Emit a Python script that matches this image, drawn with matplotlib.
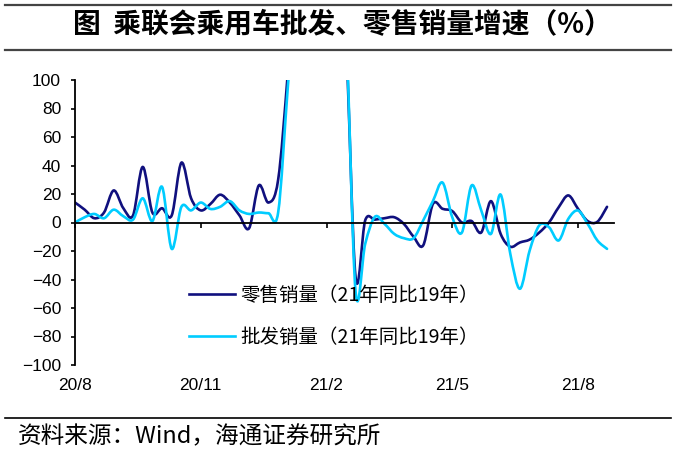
import matplotlib
matplotlib.use("Agg")
import matplotlib.pyplot as plt
import numpy as np
from matplotlib.lines import Line2D
from matplotlib.patches import PathPatch
from matplotlib.path import Path

plt.rcParams["font.family"] = ["Noto Sans CJK SC", "DejaVu Sans"]

# weekly growth 21 vs 19 (%), 20/8 .. 21/9; weeks 22-28 run far above the axis
retail = [14, 9, 3, 7, 22.5, 10, 5, 39, 7, 10, 5, 42, 17, 8.5, 13, 19.5,
          14, 5, -4, 26, 14, 30, 105, 200, 260, 280, 250, 200, 130, -38,
          1.5, 2, 3, 3.7, -1, -10, -16, 13, 9.6, 8, 0, 1, -7, 15,
          -8, -17, -14, -12, -7, 0, 10.7, 19, 9.6, 1, 0.5, 11]
wholesale = [0, 3.7, 6, 3, 9, 4.4, 2, 17, 1, 25, -18.5, 11, 8.5, 14, 9.5, 11,
             15, 8.5, 6, 7, 6.5, 7, 95, 180, 250, 300, 260, 220, 140, -48,
             -15, 4, -1, -8, -11, -11, 1.5, 15, 28, 3.7, -7, 26, 8.4, -8,
             19.6, -22, -46.5, -19.7, -2, -3.3, -12.6, 2.6, 8.4, -1, -12.6, -18.5]
tick_weeks = [0, 13, 26, 39, 52]
tick_labels = ["20/8", "20/11", "21/2", "21/5", "21/8"]
yticks = list(range(-100, 101, 20))

NAVY = "#10107E"
CYAN = "#00CCFF"
NUM_FONT = "Liberation Sans"


def smooth_path(x, y):
    """Excel style smoothed line as a cubic Bezier path."""
    pts = np.column_stack([x, y]).astype(float)
    padded = np.vstack([pts[:1], pts, pts[-1:]])
    verts = [pts[0]]
    codes = [Path.MOVETO]
    for i in range(len(pts) - 1):
        p0, p1, p2, p3 = padded[i], padded[i + 1], padded[i + 2], padded[i + 3]
        verts += [p1 + (p2 - p0) / 6, p2 - (p3 - p1) / 6, p2]
        codes += [Path.CURVE4] * 3
    return Path(verts, codes)


fig = plt.figure(figsize=(6.76, 4.51), dpi=100)
ax = fig.add_axes([75 / 676, 86 / 451, 539 / 676, 285 / 451])

weeks = np.arange(len(retail))
for series, color in [(retail, NAVY), (wholesale, CYAN)]:
    ax.add_patch(PathPatch(smooth_path(weeks, series), fill=False,
                           edgecolor=color, linewidth=1.9, capstyle="round",
                           joinstyle="round"))

ax.set_xlim(0, len(weeks) - 0.28)
ax.set_ylim(-100, 100)

for side in ["top", "right"]:
    ax.spines[side].set_visible(False)
ax.spines["bottom"].set_position(("data", 0))
ax.spines["bottom"].set_linewidth(1.3)
ax.spines["left"].set_linewidth(1.3)

ax.set_xticks(tick_weeks)
ax.tick_params(axis="x", direction="out", length=3.5, width=1.2,
               labelbottom=False)
ax.set_yticks(yticks)
ax.tick_params(axis="y", direction="out", length=3, width=1.2, pad=7,
               labelsize=12.5)
for lab in ax.get_yticklabels():
    lab.set_family(NUM_FONT)

sec = ax.secondary_xaxis(0)
sec.set_xticks(tick_weeks, labels=tick_labels)
sec.tick_params(length=0, pad=9, labelsize=12.5)
sec.spines["bottom"].set_visible(False)
for lab in sec.get_xticklabels():
    lab.set_family(NUM_FONT)

handles = [Line2D([], [], color=NAVY, linewidth=1.9),
           Line2D([], [], color=CYAN, linewidth=1.9)]
ax.legend(handles, ["零售销量（21年同比19年）", "批发销量（21年同比19年）"],
          loc="upper left", bbox_to_anchor=(0.2115, 0.28), frameon=False,
          fontsize=14, handlelength=2.35, handletextpad=0.3,
          labelspacing=1.05, borderpad=0, borderaxespad=0)

fig.text(0.506, 0.944, "图  乘联会乘用车批发、零售销量增速（%）",
         ha="center", va="center", fontsize=20, fontweight="bold")
fig.add_artist(Line2D([0.008, 0.992], [0.99, 0.99], color="#444444",
                      linewidth=1.6, transform=fig.transFigure))
fig.add_artist(Line2D([0.008, 0.992], [0.889, 0.889], color="#444444",
                      linewidth=1.6, transform=fig.transFigure))
fig.add_artist(Line2D([0.008, 0.992], [0.073, 0.073], color="black",
                      linewidth=1.2, transform=fig.transFigure))
fig.text(0.027, 0.032, "资料来源：Wind，海通证券研究所", ha="left",
         va="center", fontsize=17)

fig.savefig("out.png", dpi=100)
